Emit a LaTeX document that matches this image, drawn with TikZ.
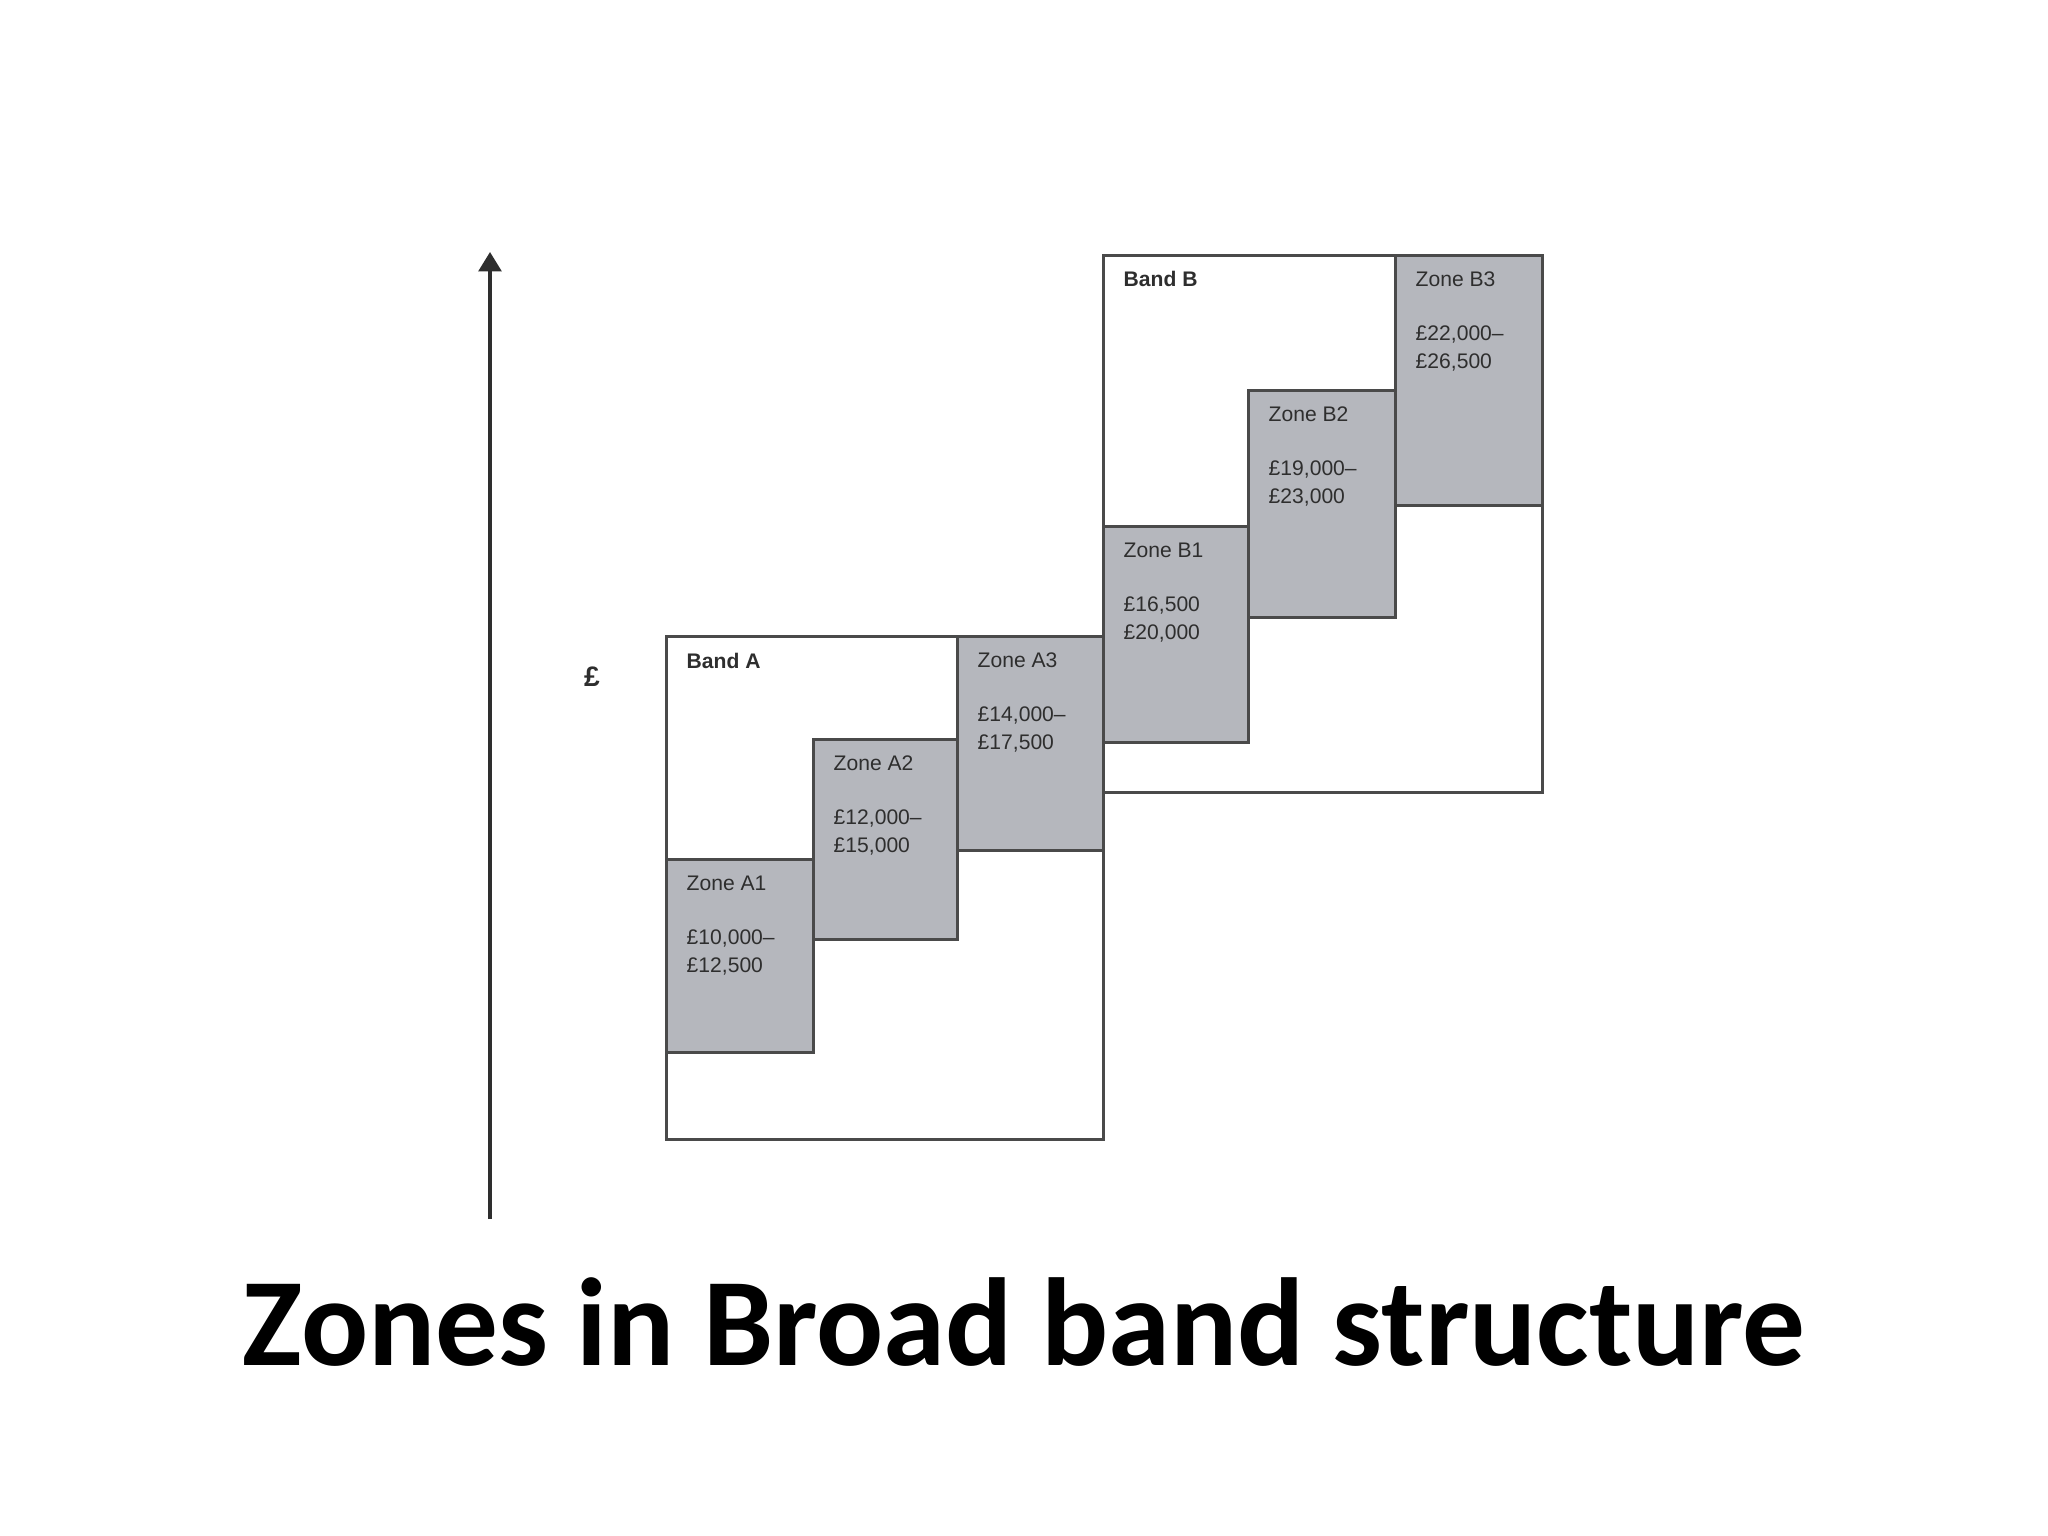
\documentclass[tikz,border=0pt]{standalone}
\usepackage{fontspec}
\usetikzlibrary{arrows.meta}
\newfontfamily\zonefont{Liberation Sans}
\newfontfamily\titlefont{Carlito}
\definecolor{linegray}{HTML}{4A4A4A}
\definecolor{zonegray}{HTML}{B5B7BD}
\definecolor{textgray}{HTML}{2E2E2E}

\tikzset{
  bandbox/.style={draw=linegray, line width=0.85pt},
  zonebox/.style={draw=linegray, fill=zonegray, line width=0.85pt},
  zonelabel/.style={anchor=base west, inner sep=0pt, text=textgray,
    font=\zonefont\fontsize{6}{7}\selectfont},
  bandlabel/.style={zonelabel, font=\zonefont\bfseries\fontsize{6}{7}\selectfont}
}

\begin{document}
\begin{tikzpicture}[x=0.01cm, y=-0.01cm]
  \useasboundingbox (0,0) rectangle (2048,1536);

  % vertical pay axis
  \coordinate (axisbot) at (490,1219);
  \coordinate (axistop) at (490,252);
  \draw[-{Triangle[width=6.5pt,length=5.5pt]}, line width=0.9pt, textgray] (axisbot) -- (axistop);
  \node[font=\zonefont\bfseries\fontsize{8}{9}\selectfont, text=textgray] (pound) at (592,677) {£};

  % the two broad bands
  \draw[bandbox] (666,636) rectangle (1103,1139);
  \draw[bandbox] (1103,255) rectangle (1542,792);
  \node[bandlabel] (bandA) at (686,668) {Band A};
  \node[bandlabel] (bandB) at (1123,286) {Band B};

  % zones: name / left / top / right / bottom / low / high
  \foreach \zn/\xl/\yt/\xr/\yb/\lo/\hi in {
      A1/666/859/813/1052/{£10,000–}/{£12,500},
      A2/813/739/957/939/{£12,000–}/{£15,000},
      A3/957/636/1103/850/{£14,000–}/{£17,500},
      B1/1103/526/1248/742/{£16,500}/{£20,000},
      B2/1248/390/1395/617/{£19,000–}/{£23,000},
      B3/1395/255/1542/505/{£22,000–}/{£26,500}} {
    \draw[zonebox] (\xl,\yt) rectangle (\xr,\yb);
    \node[zonelabel] (zone\zn) at (\xl+20,\yt+31) {Zone \zn};
    \node[zonelabel] (zone\zn lo) at (\xl+20,\yt+85) {\lo};
    \node[zonelabel] (zone\zn hi) at (\xl+20,\yt+113) {\hi};
  }

  % caption
  \node[anchor=base, inner sep=0pt, font=\titlefont\bfseries\fontsize{35.6}{40}\selectfont] (title)
    at (1024,1365) {Zones in Broad band structure};
\end{tikzpicture}
\end{document}
